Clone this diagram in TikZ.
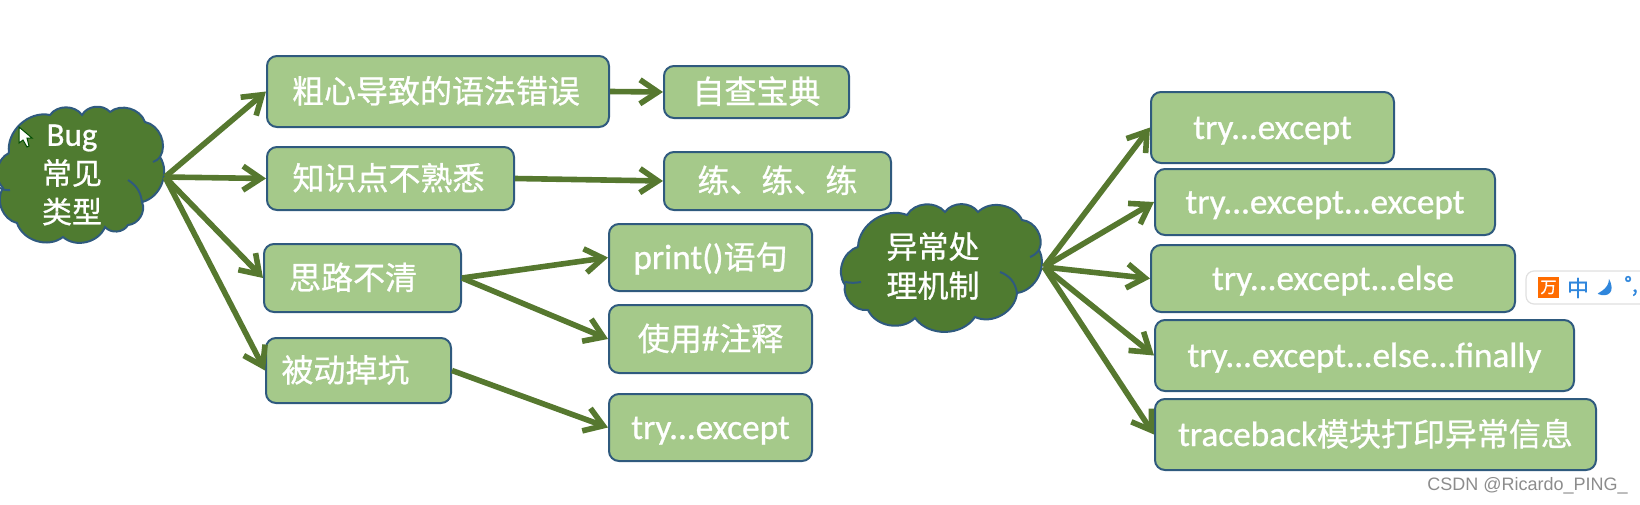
\documentclass[tikz,border=0pt]{standalone}
\usepackage{fontspec}
\setmainfont[Scale=1.1,FakeBold=0.8]{Carlito}
\newfontfamily\cjk[FakeBold=0.8]{Noto Sans CJK SC}
\usetikzlibrary{arrows.meta}
\definecolor{boxfill}{HTML}{A5C98A}
\definecolor{boxline}{HTML}{2F5A7E}
\definecolor{cloudfill}{HTML}{4F7B30}
\definecolor{arrowcol}{HTML}{56782F}
\definecolor{imeblue}{HTML}{2F86DC}
\tikzset{
	box/.style={draw=boxline,line width=1pt,fill=boxfill,rounded corners=5pt,inner sep=0pt,text=white,text height=14pt,text depth=2.5pt,font=\fontsize{16}{19}\selectfont},
	lobe/.style={bend left=55},
	puffline/.style={draw=boxline,line width=1pt},
	pufftext/.style={text=white,align=center,inner sep=0pt,font=\fontsize{15}{19.3}\selectfont},
	conn/.style={draw=arrowcol,line width=2.8pt,-{Straight Barb[length=9pt,width=12pt,line width=2.8pt]}},
}
\begin{document}
\begin{tikzpicture}[x=0.5pt,y=-0.5pt]
	\useasboundingbox (0,0) rectangle (1640,504);
	% left tree
	\draw[puffline,fill=cloudfill] (9,153) to[lobe] (50,115) to[lobe] (82,115) to[lobe] (110,112) to[lobe] (145,122) to[lobe] (160,157)
		to[lobe] (142,202) to[lobe] (128,225) to[lobe] (105,227) to[lobe] (63,237) to[lobe] (17,223) to[lobe] (3,188) to[lobe] (9,153);
	\draw[puffline] (128,180) to[bend left=25] (142,202);
	\draw[puffline] (160,157) to[bend left=15] (153,162);
	\draw[puffline] (0,188) to[bend right=15] (10,190);
	\coordinate (bug) at (165,177);
	\node[pufftext](bugtext) at (72,175) {Bug\\{\cjk 常见}\\{\cjk 类型}};
	\node[box,minimum width=171pt,minimum height=35.5pt](a1) at (438,91.5) {\cjk 粗心导致的语法错误\kern2pt};
	\node[box,minimum width=92.5pt,minimum height=26pt](a2) at (756.5,92) {\cjk 自查宝典};
	\node[box,minimum width=123.5pt,minimum height=31.5pt](b1) at (390.5,178.5) {\cjk 知识点不熟悉\kern2pt};
	\node[box,minimum width=113.5pt,minimum height=29pt](b2) at (777.5,181) {\cjk 练、练、练};
	\node[box,minimum width=98.5pt,minimum height=34pt](c1) at (362.5,278) {\cjk 思路不清\kern9.4pt};
	\node[box,minimum width=101.5pt,minimum height=33.5pt](c2) at (710.5,257.5) {print(){\cjk 语句}};
	\node[box,minimum width=101.5pt,minimum height=34pt](c3) at (710.5,339) {{\cjk 使用}\#{\cjk 注释}};
	\node[box,minimum width=92.5pt,minimum height=32.5pt](d1) at (358.5,370.5) {\cjk 被动掉坑\kern13pt};
	\node[box,minimum width=101.5pt,minimum height=33.5pt](d2) at (710.5,427.5) {try...except};
	\draw[conn] (bug) -- (a1.west);
	\draw[conn] (bug) -- (b1.west);
	\draw[conn] (bug) -- (c1.west);
	\draw[conn] (bug) -- (d1.west);
	\draw[conn] (a1.east) -- (a2.west);
	\draw[conn] (b1.east) -- (b2.west);
	\draw[conn] (c1.east) -- (c2.west);
	\draw[conn] (c1.east) -- (c3.west);
	\draw[conn] (d1.east) -- (d2.west);
	% right tree
	\draw[puffline,fill=cloudfill] (858,247) to[lobe] (907,215) to[lobe] (945,212) to[lobe] (978,212) to[lobe] (1022,220) to[lobe] (1039,250)
		to[lobe] (1017,293) to[lobe] (975,317) to[lobe] (915,318) to[lobe] (868,310) to[lobe] (845,285) to[lobe] (858,247);
	\draw[puffline] (1000,272) to[bend left=30] (1017,293);
	\draw[puffline] (1039,250) to[bend left=15] (1030,257);
	\draw[puffline] (845,282) to[bend right=10] (861,282);
	\coordinate (exc) at (1044,267);
	\node[pufftext,font=\fontsize{15.5}{19.5}\selectfont](exctext) at (933,266) {\cjk 异常处\\\cjk 理机制};
	\node[box,minimum width=121.5pt,minimum height=35.5pt](e1) at (1272.5,127.5) {try...except};
	\node[box,minimum width=170pt,minimum height=33pt](e2) at (1325,202) {try...except...except};
	\node[box,minimum width=182pt,minimum height=33.5pt](e3) at (1333,278.5) {try...except...else};
	\node[box,minimum width=209.5pt,minimum height=35.5pt](e4) at (1364.5,355.5) {try...except...else...finally};
	\node[box,minimum width=220.5pt,minimum height=35.5pt](e5) at (1375.5,434.5) {traceback{\cjk 模块打印异常信息}};
	\draw[conn] (exc) -- (e1.west);
	\draw[conn] (exc) -- (e2.west);
	\draw[conn] (exc) -- (e3.west);
	\draw[conn] (exc) -- (e4.west);
	\draw[conn] (exc) -- (e5.west);
	% screen capture leftovers
	\draw[fill=white,draw=black!70!green,line width=0.5pt] (19,127) -- (19,143) -- (23,140) -- (27,147) -- (29,146) -- (27,138) -- (32,138) -- cycle;
	\draw[draw=black!12,fill=white,line width=0.6pt,rounded corners=4pt] (1640,271) -- (1526,271) -- (1526,304) -- (1640,304);
	\node[fill=orange!85!red,minimum size=10.5pt,inner sep=0pt,text=white,font=\cjk\fontsize{8}{8}\selectfont](ime1) at (1548.5,287.5) {万};
	\node[text=imeblue,inner sep=0pt,font=\cjk\fontsize{11}{11}\selectfont](ime2) at (1578,288) {中};
	\fill[imeblue] (1609,279) .. controls (1616,292) and (1608,298) .. (1598,294) .. controls (1596,293) and (1609,290) .. (1609,279);
	\node[text=imeblue,inner sep=0pt,font=\cjk\fontsize{10.5}{11}\selectfont](ime3) at (1631,286) {°,};
	\node[text=black!45,inner sep=0pt,font=\fontspec{Liberation Sans}\fontsize{9}{11}\selectfont](mark) at (1527.5,486) {CSDN @Ricardo\_PING\_};
\end{tikzpicture}
\end{document}
